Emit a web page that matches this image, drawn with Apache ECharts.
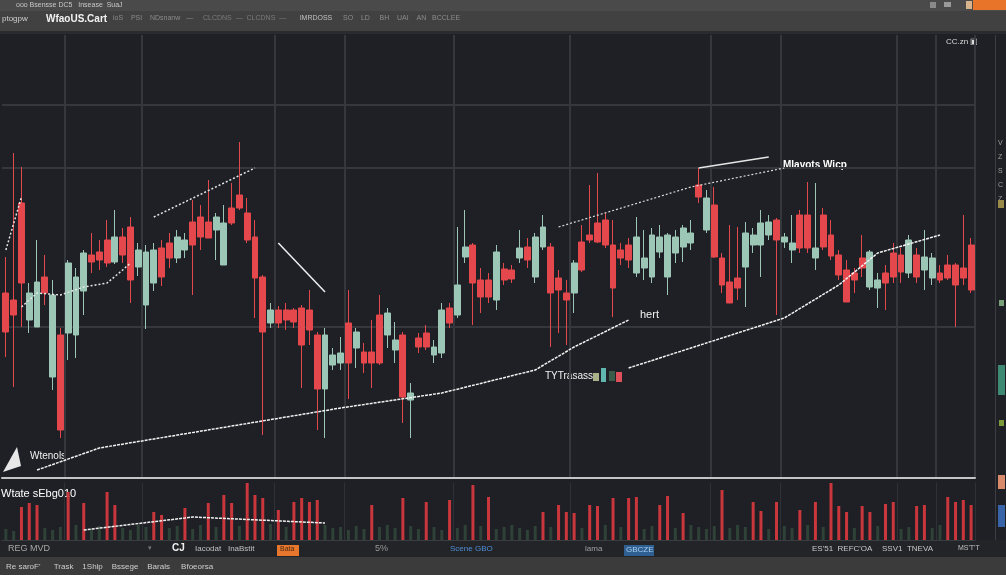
<!DOCTYPE html>
<html>
<head>
<meta charset="utf-8">
<script src="https://cdn.jsdelivr.net/npm/echarts@6/dist/echarts.min.js"></script>
<style>
  html, body { margin: 0; padding: 0; background: #1e2025; }
  #chart { width: 1006px; height: 575px; }
</style>
</head>
<body>
<div id="chart"></div>
<script>
// candles: [open, close, low, high]
const candles = [
  [118.5,114.6,112.1,122.1],[117.8,116.3,109.1,132.5],[127.5,119.5,115.1,131.1],[115.8,118.5,114.5,119.5],
  [115.1,119.6,115.1,123.8],[120.1,118.5,117.3,122.3],[110.1,118.3,108.8,119.8],[114.3,104.8,104.0,115.0],
  [114.5,121.5,111.8,121.8],[114.3,120.1,112.0,121.0],[118.7,122.5,116.3,122.8],[122.3,121.6,120.5,124.5],
  [122.6,121.8,120.8,123.8],[123.8,121.5,121.1,125.8],[121.6,124.1,121.4,126.8],[124.1,122.3,121.5,125.0],
  [125.1,119.8,117.5,126.1],[121.1,122.8,120.2,123.5],[117.3,122.6,114.9,123.3],[119.5,122.8,118.7,123.5],
  [123.0,120.1,119.2,123.8],[123.5,122.0,121.0,124.5],[122.0,124.1,121.5,124.8],[122.8,123.8,122.0,124.5],
  [125.6,123.3,118.3,127.8],[126.1,124.1,122.8,127.3],[125.6,124.0,124.0,129.8],[124.8,126.1,121.8,126.5],
  [121.3,125.5,121.3,127.3],[127.0,125.5,125.3,129.5],[128.3,127.0,126.8,133.6],[126.5,123.8,123.5,128.0],
  [124.1,120.0,116.0,125.8],[120.1,114.6,104.3,120.3],[115.5,116.8,115.0,117.5],[116.8,115.5,115.0,117.2],
  [116.8,115.8,114.8,117.5],[116.8,115.6,115.0,117.0],[117.0,113.3,109.0,117.3],[116.8,114.8,113.3,118.8],
  [114.3,108.9,104.8,114.6],[108.9,114.3,104.0,115.0],[111.3,112.3,110.8,113.0],[111.5,112.5,110.8,114.1],
  [115.5,111.5,107.9,118.8],[113.0,114.6,111.0,115.0],[112.6,111.5,110.5,113.5],[112.6,111.5,109.0,115.8],
  [116.3,111.5,111.3,118.3],[114.3,116.5,113.0,117.0],[112.8,113.8,111.5,115.6],[114.3,108.1,105.5,114.6],
  [107.8,108.5,104.0,109.5],[114.0,113.1,112.5,114.5],[114.5,113.1,112.8,115.3],[112.3,113.1,111.5,113.8],
  [112.5,116.8,112.0,117.5],[117.0,115.5,115.0,117.5],[116.3,119.3,116.0,125.1],[122.1,123.1,121.5,126.8],
  [123.3,119.5,115.3,123.5],[119.8,118.1,116.5,121.0],[119.8,118.1,117.5,120.5],[117.8,122.6,116.8,123.3],
  [120.9,119.8,119.3,121.5],[120.8,119.9,119.5,121.3],[122.0,123.0,121.5,124.8],[123.1,121.8,121.0,124.0],
  [120.1,124.1,119.5,124.5],[123.1,125.1,122.8,126.3],[123.1,118.5,113.1,123.5],[120.0,118.8,114.5,120.8],
  [118.5,117.8,113.3,119.8],[118.5,121.5,116.5,121.8],[123.6,120.8,120.6,125.3],[124.3,123.8,123.5,129.3],
  [125.5,123.6,123.5,130.5],[125.8,123.3,123.0,126.5],[123.3,119.0,116.1,125.8],[122.8,122.0,121.3,123.5],
  [123.3,121.8,121.0,124.0],[120.5,124.1,120.1,126.1],[121.0,122.0,119.8,124.8],[120.1,124.3,119.5,125.0],
  [122.6,124.1,122.0,125.3],[120.1,124.3,118.3,124.5],[122.5,124.1,121.5,124.8],[123.1,125.0,121.6,125.3],
  [123.5,124.5,122.8,125.8],[129.3,128.1,127.5,131.0],[124.8,128.0,124.5,128.8],[127.3,122.1,122.0,129.1],
  [122.0,119.3,118.5,122.5],[119.6,117.5,117.5,125.3],[120.0,119.0,117.8,125.1],[121.1,124.5,117.1,125.6],
  [123.3,124.3,122.5,125.0],[123.3,125.5,120.1,126.8],[124.3,125.6,123.8,126.3],[125.8,123.8,116.3,126.0],
  [123.6,124.1,123.0,124.5],[122.8,123.5,121.5,126.3],[126.3,123.0,122.5,126.8],[126.3,123.0,122.5,129.6],
  [122.0,123.0,120.8,129.5],[126.3,123.1,122.8,127.0],[124.3,122.2,121.8,125.8],[122.3,120.3,119.8,122.8],
  [120.8,117.6,117.6,121.8],[120.5,119.8,118.5,121.0],[122.0,121.0,120.1,124.3],[119.1,122.6,118.8,122.8],
  [119.0,119.8,117.0,120.5],[120.5,119.5,116.8,121.3],[122.5,120.1,119.5,123.5],[122.3,120.6,119.5,123.0],
  [120.5,123.8,120.0,124.3],[122.3,120.1,119.5,123.0],[120.8,122.1,118.8,124.8],[120.0,122.0,119.3,122.5],
  [120.5,119.8,119.5,121.3],[121.3,120.0,119.8,122.3],[121.3,119.3,115.1,121.5],[121.0,120.0,119.3,126.3],
  [123.3,118.8,118.5,124.0]
];

const volumes = [
  220,180,660,740,700,240,200,260,960,300,740,220,280,960,700,240,200,300,260,560,
  500,240,280,640,220,300,740,260,900,740,280,1140,900,840,320,600,260,760,840,760,
  800,300,240,260,200,280,220,700,260,300,240,840,280,220,760,260,200,800,240,300,
  1100,280,860,220,260,300,240,200,280,560,260,700,560,540,240,700,680,300,840,260,
  840,860,220,280,700,880,240,540,300,260,220,280,1000,240,300,260,760,580,220,760,
  280,240,600,300,760,260,1140,680,560,240,680,560,280,720,760,220,260,680,700,240,
  300,860,760,800,700
];

// drawn trend lines: [candle index, price]
const trendA = [[0, 122.8], [2, 128.1]];
const trendB = [[2, 117.1], [4, 118.5], [7, 118.3], [10, 119.1], [13, 119.5], [15, 120.8], [16, 121.5]];
const trendC = [[19, 126.1], [32, 131.0]];
const arrowD = [[35, 123.5], [41, 118.6]];
const supportE = [[4, 100.8], [12, 103.0], [43, 107.0], [56, 108.5], [68, 110.8], [73, 113.1], [80, 115.8]];
const supportF = [[80, 111.0], [100, 116.0], [107, 119.3], [112, 122.5], [120, 124.3]];
const trendG = [[71, 125.1], [88, 129.1], [100, 131.0]];
const trendH = [[89, 131.0], [98, 132.1]];
const volTrend = [[10, 200], [23, 440], [24, 460], [41, 340]];

const gridCols = [8, 18, 35, 44, 58, 73, 91, 100, 115, 120];
const gridRows = [137.3, 131.0, 115.1];

const days = candles.map((_, i) => 'D' + (i + 1));

const chart = echarts.init(document.getElementById('chart'));

function trend(data, color, type, width) {
  return {
    type: 'line', data: data, xAxisIndex: 0, yAxisIndex: 0,
    symbol: 'none', silent: true, z: 5,
    lineStyle: { color: color, type: type, width: width }
  };
}

const gray = '#b9b9b9';
function txt(x, y, s, size, fill, weight) {
  return { type: 'text', left: x, top: y, silent: true,
    style: { text: s, fontSize: size, fill: fill || gray, fontFamily: 'Liberation Sans, Arial, sans-serif', fontWeight: weight || 'normal' } };
}

const option = {
  backgroundColor: '#1e2025',
  animation: false,
  grid: [
    { left: 2, right: 31, top: 35, bottom: 97 },
    { left: 2, right: 31, top: 483, bottom: 35 }
  ],
  xAxis: [
    { type: 'category', data: days, gridIndex: 0, boundaryGap: true,
      axisLine: { show: true, lineStyle: { color: '#c4c4c4', width: 2 } },
      axisTick: { show: false }, axisLabel: { show: false },
      splitLine: { show: true, interval: (i) => gridCols.includes(i), lineStyle: { color: '#34373c', width: 2 } } },
    { type: 'category', data: days, gridIndex: 1, boundaryGap: true,
      axisLine: { show: true, lineStyle: { color: '#3a3d42' } },
      axisTick: { show: false }, axisLabel: { show: false },
      splitLine: { show: true, interval: (i) => gridCols.includes(i), lineStyle: { color: '#2e3135', width: 1 } } }
  ],
  yAxis: [
    { type: 'value', gridIndex: 0, min: 100, max: 144.3, position: 'right',
      axisLine: { show: false }, axisTick: { show: false }, axisLabel: { show: false }, splitLine: { show: false } },
    { type: 'value', gridIndex: 1, min: 0, max: 1140, position: 'right',
      axisLine: { show: false }, axisTick: { show: false }, axisLabel: { show: false }, splitLine: { show: false } }
  ],
  series: [
    {
      type: 'candlestick', data: candles, xAxisIndex: 0, yAxisIndex: 0,
      barWidth: '82%',
      itemStyle: { color: '#9cc6b6', color0: '#e4484d', borderColor: '#9cc6b6', borderColor0: '#e4484d', borderWidth: 1 },
      markLine: {
        silent: true, symbol: 'none', label: { show: false }, z: 1,
        lineStyle: { color: '#34373c', type: 'solid', width: 2 },
        data: gridRows.map(v => ({ yAxis: v }))
      }
    },
    {
      type: 'bar', data: volumes, xAxisIndex: 1, yAxisIndex: 1, barWidth: 3,
      itemStyle: { color: (p) => p.value > 320 ? '#c9363b' : '#2f4237' }
    },
    trend(trendA, '#e6e6e6', [2, 2], 1.5),
    trend(trendB, '#e6e6e6', [2, 2], 1.5),
    trend(trendC, '#e6e6e6', [2, 2], 1.5),
    trend(arrowD, '#f0f0f0', 'solid', 1.5),
    trend(supportE, '#f2f2f2', [3, 1], 1.5),
    trend(supportF, '#f2f2f2', [3, 1], 1.5),
    trend(trendG, '#dcdcdc', [2, 2], 1.2),
    trend(trendH, '#e6e6e6', 'solid', 1.5),
    { type: 'line', data: volTrend, xAxisIndex: 1, yAxisIndex: 1, symbol: 'none', silent: true,
      lineStyle: { color: '#f0f0f0', type: [3, 1], width: 1.5 } }
  ],
  graphic: [
    // top bars
    { type: 'rect', shape: { x: 0, y: 0, width: 1006, height: 11 }, style: { fill: '#4a4a4a' }, silent: true },
    { type: 'rect', shape: { x: 0, y: 11, width: 1006, height: 20 }, style: { fill: '#414141' }, silent: true },
    { type: 'rect', shape: { x: 0, y: 31, width: 1006, height: 3 }, style: { fill: '#2a2b2e' }, silent: true },
    txt(16, 2, 'ooo Bsensse DC5   Insease  SuaJ', 7, '#c8c8c8'),
    txt(2, 15, 'ptogpw', 8, '#cfcfcf'),
    txt(46, 14, 'WfaoUS.Cart', 10, '#f2f2f2', 'bold'),
    txt(113, 15, 'ioS    PSI    NDsnanw   —', 7, '#8a8a8a'),
    txt(203, 15, 'CLCDNS  —  CLCDNS  —', 7, '#7a7a7a'),
    txt(300, 15, 'lMRDOSS', 7, '#c0c0c0'),
    txt(343, 15, 'SO    LD     BH    UAI    AN   BCCLEE', 7, '#8c8c8c'),
    { type: 'rect', shape: { x: 930, y: 2, width: 6, height: 6 }, style: { fill: '#8a8a8a' }, silent: true },
    { type: 'rect', shape: { x: 944, y: 2, width: 7, height: 5 }, style: { fill: '#9a9a9a' }, silent: true },
    { type: 'rect', shape: { x: 966, y: 1, width: 6, height: 8 }, style: { fill: '#d9b48a' }, silent: true },
    { type: 'rect', shape: { x: 973, y: 0, width: 33, height: 10 }, style: { fill: '#e8742a' }, silent: true },
    txt(946, 38, 'CC.zn ▣', 8, '#dcdcdc'),
    // right strip
    { type: 'rect', shape: { x: 995, y: 35, width: 1, height: 505 }, style: { fill: '#3c3e42' }, silent: true },
    txt(998, 140, 'V\n\nZ\n\nS\n\nC\n\nZ', 7, '#9aa59a'),
    { type: 'rect', shape: { x: 998, y: 200, width: 6, height: 8 }, style: { fill: '#9a8a4a' }, silent: true },
    { type: 'rect', shape: { x: 999, y: 300, width: 5, height: 6 }, style: { fill: '#7aa07a' }, silent: true },
    { type: 'rect', shape: { x: 998, y: 365, width: 7, height: 30 }, style: { fill: '#3f8a72' }, silent: true },
    { type: 'rect', shape: { x: 999, y: 420, width: 5, height: 6 }, style: { fill: '#7b9a3a' }, silent: true },
    { type: 'rect', shape: { x: 998, y: 475, width: 7, height: 14 }, style: { fill: '#d98a6a' }, silent: true },
    { type: 'rect', shape: { x: 998, y: 505, width: 7, height: 22 }, style: { fill: '#3a64a8' }, silent: true },
    // annotations
    txt(783, 160, 'Mlavots Wicp', 10, '#ffffff', 'bold'),
    txt(640, 309, 'hert', 11, '#f2f2f2'),
    txt(545, 371, 'TYTrasass', 10, '#f2f2f2'),
    { type: 'rect', shape: { x: 593, y: 373, width: 6, height: 8 }, style: { fill: '#a9b08a' }, silent: true },
    { type: 'rect', shape: { x: 601, y: 368, width: 5, height: 14 }, style: { fill: '#5fb7b0' }, silent: true },
    { type: 'rect', shape: { x: 609, y: 371, width: 6, height: 10 }, style: { fill: '#3a5a4a' }, silent: true },
    { type: 'rect', shape: { x: 616, y: 372, width: 6, height: 10 }, style: { fill: '#e0505a' }, silent: true },
    { type: 'polygon', shape: { points: [[3, 472], [17, 447], [21, 466]] }, style: { fill: '#e8e8e8' }, silent: true },
    txt(30, 451, 'Wtenols', 10, '#f0f0f0'),
    txt(1, 488, 'Wtate sEbg010', 11, '#ffffff'),
    // bottom bars
    { type: 'rect', shape: { x: 0, y: 540, width: 1006, height: 17 }, style: { fill: '#232428' }, silent: true },
    txt(8, 544, 'REG MVD', 9, '#a8a8a8'),
    txt(148, 545, '▾', 7, '#777'),
    txt(172, 543, 'CJ', 10, '#f0f0f0', 'bold'),
    txt(195, 545, 'Iacodat   InaBstit', 8, '#c0c0c0'),
    { type: 'rect', shape: { x: 277, y: 545, width: 22, height: 11 }, style: { fill: '#e8772e' }, silent: true },
    txt(280, 546, 'Bata', 7, '#4a2a10'),
    txt(375, 544, '5%', 9, '#9a9a9a'),
    txt(450, 545, 'Scene GBO', 8, '#4f8fd8'),
    txt(585, 545, 'lama', 8, '#a0a0a0'),
    { type: 'rect', shape: { x: 624, y: 545, width: 30, height: 11 }, style: { fill: '#2f5f90' }, silent: true },
    txt(626, 546, 'GBCZE', 8, '#a8d0f0'),
    txt(812, 545, "ES'51  REFC'OA", 8, '#c8c8c8'),
    txt(882, 545, 'SSV1  TNEVA', 8, '#c8c8c8'),
    txt(958, 545, "MS'T'T", 7, '#c0c0c0'),
    { type: 'rect', shape: { x: 0, y: 557, width: 1006, height: 18 }, style: { fill: '#3b3b3b' }, silent: true },
    txt(6, 563, "Re saroF'      Trask    1Shlp    Bssege    Barals     Bfoeorsa", 8, '#cfcfcf')
  ]
};

chart.setOption(option);
</script>
</body>
</html>
